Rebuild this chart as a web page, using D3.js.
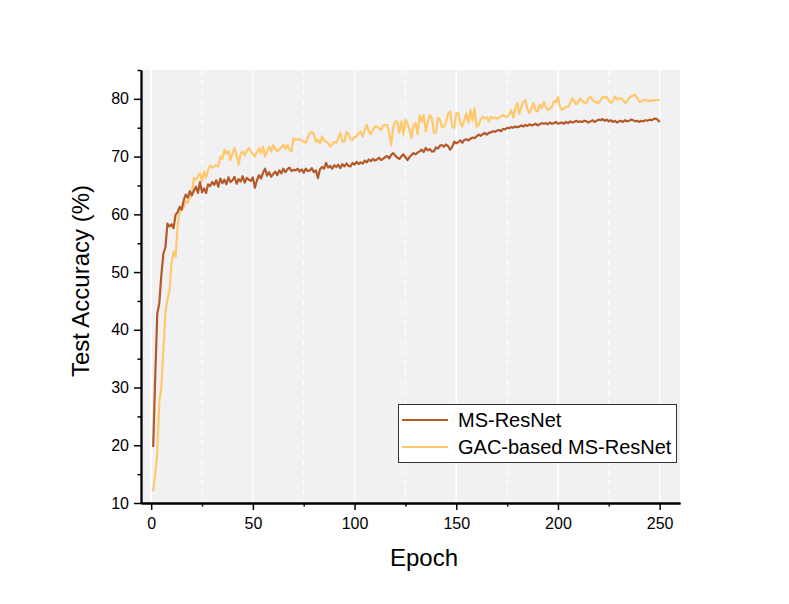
<!DOCTYPE html>
<html>
<head>
<meta charset="utf-8">
<script src="https://cdn.jsdelivr.net/npm/d3@7"></script>
<style>
body{margin:0;background:#fff;}
text{font-family:"Liberation Sans",Arial,sans-serif;}
</style>
</head>
<body>
<div id="svg-container"></div>
<script>
// data, epoch 1..250
var msResNet=[
19.7,32.0,42.8,44.6,49.5,53.2,54.3,58.4,57.9,58.3,
57.6,59.9,60.4,61.3,60.8,62.4,63.4,62.9,64.0,63.3,
64.1,64.8,63.7,65.6,63.8,64.5,63.7,65.2,64.9,65.6,
65.1,65.9,64.8,66.2,65.4,66.0,65.2,66.4,65.6,65.9,
66.5,65.3,66.1,65.7,66.6,65.5,66.3,66.0,65.8,66.4,
64.6,65.9,66.8,66.2,67.2,67.9,66.7,67.3,66.5,67.0,
67.4,66.8,67.6,67.1,67.9,67.3,67.8,68.1,67.5,67.7,
67.6,67.9,67.4,67.8,67.2,67.9,67.5,67.6,68.0,67.3,
67.6,66.3,67.8,68.2,67.9,68.9,68.1,68.4,67.9,68.5,
68.2,68.6,68.0,68.7,68.3,68.8,68.4,68.3,68.9,68.6,
69.1,68.7,69.0,68.8,69.3,69.0,69.5,69.2,69.6,69.3,
69.5,69.8,69.4,69.6,69.9,70.1,69.7,70.3,70.6,70.2,
69.8,69.6,70.0,70.4,69.9,69.4,69.9,70.3,70.6,70.4,
70.7,70.9,71.2,70.8,71.5,71.1,71.3,70.9,70.9,71.6,
71.4,71.9,72.0,71.7,72.1,71.8,71.2,71.7,72.6,72.3,
72.5,72.8,72.4,72.9,73.0,72.8,73.1,73.3,73.2,73.5,
73.8,73.6,73.9,74.1,73.8,74.1,74.2,74.4,74.3,74.5,
74.6,74.4,74.8,74.7,75.0,74.9,75.1,75.0,75.2,75.1,
75.2,75.4,75.2,75.5,75.3,75.6,75.4,75.5,75.7,75.4,
75.6,75.8,75.7,75.8,75.6,75.9,75.7,75.8,76.0,75.7,
75.8,75.9,75.7,76.0,75.8,76.1,75.9,76.0,76.2,76.0,
76.1,76.0,76.2,76.1,75.9,76.1,76.3,76.0,76.2,76.4,
76.3,76.5,76.2,76.4,76.1,76.3,76.0,76.2,75.9,76.1,
76.2,76.0,76.3,76.1,76.2,76.4,76.3,76.1,76.2,76.0,
76.2,76.1,76.3,76.2,76.4,76.3,76.5,76.6,76.4,76.0
];
var gacResNet=[
12.0,15.0,18.8,27.5,30.0,36.5,43.0,45.2,46.8,51.6,
53.5,52.6,57.9,60.5,60.9,61.2,62.2,62.0,62.8,63.5,
66.3,66.0,66.6,67.1,65.8,67.4,66.3,67.7,68.4,68.1,
68.3,68.5,68.3,70.0,69.6,71.2,70.5,71.0,69.4,70.6,
71.5,70.2,68.6,70.5,70.9,70.2,71.0,71.5,70.9,70.4,
70.0,70.8,71.5,70.6,71.7,70.0,70.9,71.7,70.9,72.0,
71.3,70.9,71.2,71.6,72.0,71.3,72.0,71.2,70.9,73.2,
72.9,73.0,73.0,72.7,72.6,72.4,73.3,74.1,74.3,73.9,
72.6,72.9,72.3,73.5,72.8,72.6,72.4,71.7,72.1,72.6,
72.4,73.2,74.1,72.6,72.6,74.3,73.9,73.0,72.9,73.4,
73.5,74.1,74.3,73.5,74.6,75.5,74.3,73.9,74.6,75.2,
75.2,74.9,74.6,75.3,75.5,75.5,74.1,72.0,75.2,76.1,
76.1,74.1,76.1,73.8,76.4,75.8,74.6,73.2,75.5,75.8,
73.9,77.2,76.0,77.2,74.4,76.0,77.2,76.7,74.1,74.1,
76.7,76.4,75.2,75.2,76.0,77.5,77.8,75.2,75.0,77.5,
77.5,75.8,75.2,76.4,77.5,75.9,78.1,76.2,78.4,75.2,
75.5,76.4,76.9,76.6,76.8,76.1,76.9,76.6,76.8,76.6,
76.7,77.0,77.2,76.9,76.9,77.3,78.1,76.8,78.4,79.3,
77.4,78.6,79.5,79.8,78.2,77.5,78.4,79.3,78.0,77.8,
79.0,78.4,79.5,78.6,78.1,78.3,78.6,79.6,79.4,80.4,
78.6,78.1,78.4,78.6,78.6,79.3,80.1,79.6,79.0,79.5,
80.1,79.6,79.3,79.3,80.0,80.4,79.8,79.5,79.4,79.3,
79.8,80.4,80.2,80.3,79.7,79.3,79.6,80.4,79.9,80.1,
80.1,79.8,79.3,79.6,80.2,80.4,80.6,80.7,80.1,79.5,
79.5,79.8,79.8,79.7,79.6,79.8,79.7,79.8,79.8,79.9
];
var seriesNames=["MS-ResNet","GAC-based MS-ResNet"];
var seriesColors=["#b35a28","#ffc86a"];
var xMajor=[0,50,100,150,200,250];
var xMinor=[25,75,125,175,225];
var yMajor=[10,20,30,40,50,60,70,80];
var yMinor=[15,25,35,45,55,65,75,85];

// layout (window.top is taken, so p-prefixed names)
width=789;
height=604;
pL=141;pR=680;pT=70;pB=503;

x=d3.scaleLinear().domain([-5,260]).range([pL,pR]);
y=d3.scaleLinear().domain([10,85]).range([pB,pT]);

$svg=d3.select('#svg-container').append('svg').attr('width',width).attr('height',height);

// plot background
$svg.append('rect').attr('x',pL).attr('y',pT).attr('width',pR-pL).attr('height',pB-pT).attr('fill','#f1f1f3');

// vertical grid (solid majors, dashed minors)
$svg.append('g').selectAll('line').data(xMajor).enter().append('line')
	.attr('x1',function(d){return x(d)}).attr('x2',function(d){return x(d)})
	.attr('y1',pT).attr('y2',pB)
	.attr('stroke','#fff').attr('stroke-width',1.6);
$svg.append('g').selectAll('line').data(xMinor).enter().append('line')
	.attr('x1',function(d){return x(d)}).attr('x2',function(d){return x(d)})
	.attr('y1',pT).attr('y2',pB)
	.attr('stroke','#fff').attr('stroke-width',1.2).attr('stroke-dasharray','5,5');

// lines, GAC first so the brown one sits on top
var epochs=d3.range(1,msResNet.length+1);
var line=d3.line().x(function(d,i){return x(epochs[i])}).y(function(d){return y(d)});
[gacResNet,msResNet].forEach(function(arr){
	var k=(arr===msResNet)?0:1;
	$svg.append('path').datum(arr).attr('d',line)
		.attr('fill','none').attr('stroke',seriesColors[k]).attr('stroke-width',2.2)
		.attr('stroke-linejoin','round');
});

// axes
$svg.append('g').attr('transform','translate('+pL+',0)')
	.call(d3.axisLeft(y).tickValues(yMajor).tickSize(7).tickPadding(5).tickSizeOuter(0));
$svg.append('g').attr('transform','translate('+pL+',0)')
	.call(d3.axisLeft(y).tickValues(yMinor).tickSize(3.5).tickFormat('').tickSizeOuter(0));
$svg.append('g').attr('transform','translate(0,'+pB+')')
	.call(d3.axisBottom(x).tickValues(xMajor).tickSize(7).tickPadding(8).tickSizeOuter(0));
$svg.append('g').attr('transform','translate(0,'+pB+')')
	.call(d3.axisBottom(x).tickValues(xMinor).tickSize(3.5).tickFormat('').tickSizeOuter(0));
$svg.selectAll('.domain').attr('stroke','#000').attr('stroke-width',1.8);
$svg.selectAll('.tick line').attr('stroke','#000').attr('stroke-width',1.5);
$svg.selectAll('.tick text').attr('font-size',16).attr('fill','#000')
	.attr('font-family','"Liberation Sans",Arial,sans-serif');

// axis titles
$svg.append('text').text('Epoch').attr('x',424).attr('y',566)
	.attr('text-anchor','middle').attr('font-size',24);
$svg.append('text').text('Test Accuracy (%)')
	.attr('transform','translate(89,281)rotate(-90)')
	.attr('text-anchor','middle').attr('font-size',24);

// legend
$lg=$svg.append('g');
$lg.append('rect').attr('x',398.5).attr('y',404.5).attr('width',278).attr('height',58)
	.attr('fill','#fff').attr('stroke','#333').attr('stroke-width',1);
seriesNames.forEach(function(n,i){
	var yy=420+i*27;
	$lg.append('line').attr('x1',402).attr('x2',448).attr('y1',yy).attr('y2',yy)
		.attr('stroke',seriesColors[i]).attr('stroke-width',2.2);
	$lg.append('text').text(n).attr('x',458).attr('y',yy+7).attr('font-size',20);
});
</script>
</body>
</html>
